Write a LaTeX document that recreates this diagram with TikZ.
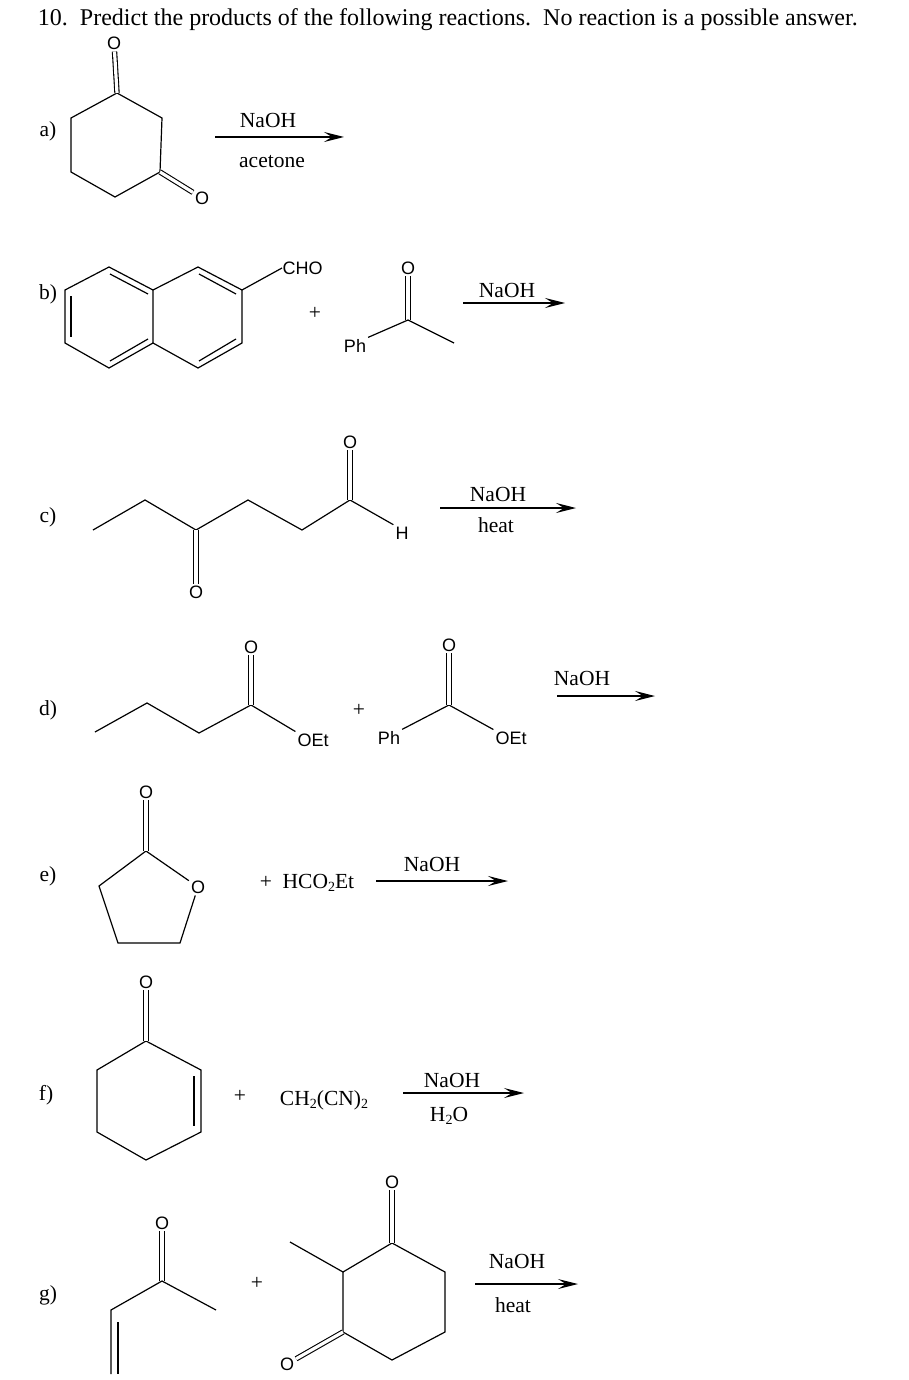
\documentclass[tikz,border=0pt]{standalone}
\usepackage{fontspec}
\setmainfont{Liberation Serif}
\setsansfont{Liberation Sans}
\usetikzlibrary{arrows.meta}
\newcommand{\subtwo}{\raisebox{-0.35ex}{\fontsize{14}{14}\selectfont 2}}
\begin{document}
\begin{tikzpicture}[x=1pt,y=-1pt,line width=1.2pt,
  atom/.style={font=\fontsize{18}{18}\selectfont\sffamily,inner sep=1.5pt},
  lab/.style={font=\fontsize{21.5}{21.5}\selectfont},
  dbl/.style={double,double distance=3.2pt,line width=1.1pt},
  rxn/.style={-{Stealth[length=20pt,width=10pt,inset=8pt]},line width=1.4pt}]
\useasboundingbox (0,0) rectangle (908,1380);
\node[lab,anchor=west,font=\fontsize{24}{24}\selectfont] (title) at (34,20) {10.\ \ Predict the products of the following reactions.\ \ No reaction is a possible answer.};

% a)
\node[lab] (la) at (48,131) {a)};
\node[atom] (a1) at (114,43) {O};
\node[atom] (a2) at (202,198) {O};
\draw (117,93) -- (162,118) -- (160,172) -- (115,197) -- (71,172) -- (71,118) -- cycle;
\draw[dbl] (117,93) -- (a1);
\draw[dbl] (160,172) -- (a2);
\coordinate (ra1) at (215,137); \coordinate (ra2) at (344,137);
\draw[rxn] (ra1) -- (ra2);
\node[lab] (na) at (268,120) {NaOH};
\node[lab] (ac) at (272,162) {acetone};

% b)
\node[lab] (lb) at (48,294) {b)};
\draw (109,267) -- (153,290) -- (153,343) -- (109,368) -- (65,343) -- (65,290) -- cycle;
\draw (153,290) -- (198,267) -- (242,290) -- (242,343) -- (198,368) -- (153,343);
\draw (71,296) -- (71,337);
\draw (110,274) -- (148,294);
\draw (148,339) -- (110,361);
\draw (199,274) -- (236,294);
\draw (236,339) -- (199,361);
\node[atom,anchor=west,inner sep=0pt] (cho) at (282,268) {CHO};
\draw (242,290) -- (cho.west);
\node[lab] (pb) at (315,313) {+};
\node[atom] (ob) at (408,268) {O};
\node[atom] (phb) at (355,346) {Ph};
\draw[dbl] (408,320) -- (ob);
\draw (phb.north east) -- (408,320) -- (454,343);
\coordinate (rb1) at (463,303); \coordinate (rb2) at (565,303);
\draw[rxn] (rb1) -- (rb2);
\node[lab] (nb) at (507,290) {NaOH};

% c)
\node[lab] (lc) at (48,517) {c)};
\node[atom] (oc1) at (350,442) {O};
\node[atom] (oc2) at (196,592) {O};
\node[atom] (hc) at (402,533) {H};
\draw (93,530) -- (145,500) -- (196,530) -- (248,500) -- (302,530) -- (350,500) -- (hc.north west);
\draw[dbl] (350,500) -- (oc1);
\draw[dbl] (196,530) -- (oc2);
\coordinate (rc1) at (440,508); \coordinate (rc2) at (576,508);
\draw[rxn] (rc1) -- (rc2);
\node[lab] (nc) at (498,494) {NaOH};
\node[lab] (hcx) at (496,525) {heat};

% d)
\node[lab] (ld) at (48,710) {d)};
\node[atom] (od1) at (251,647) {O};
\node[atom] (oet1) at (313,740) {OEt};
\draw (95,732) -- (147,703) -- (199,733) -- (251,705) -- (oet1.north west);
\draw[dbl] (251,705) -- (od1);
\node[lab] (pd) at (359,710) {+};
\node[atom] (phd) at (389,738) {Ph};
\node[atom] (od2) at (449,645) {O};
\node[atom] (oet2) at (511,738) {OEt};
\draw (phd.north east) -- (449,705) -- (oet2.north west);
\draw[dbl] (449,705) -- (od2);
\coordinate (rd1) at (557,696); \coordinate (rd2) at (655,696);
\draw[rxn] (rd1) -- (rd2);
\node[lab] (nd) at (582,678) {NaOH};

% e)
\node[lab] (le) at (48,876) {e)};
\node[atom] (oe1) at (146,792) {O};
\node[atom] (oe2) at (198,887) {O};
\draw (oe2) -- (146,851) -- (99,886) -- (118,943) -- (180,943) -- (oe2);
\draw[dbl] (146,851) -- (oe1);
\node[lab] (he) at (307,883) {+\ \ HCO\subtwo Et};
\coordinate (re1) at (376,881); \coordinate (re2) at (508,881);
\draw[rxn] (re1) -- (re2);
\node[lab] (ne) at (432,864) {NaOH};

% f)
\node[lab] (lf) at (46,1095) {f)};
\node[atom] (of) at (146,982) {O};
\draw (146,1041) -- (201,1070) -- (201,1132) -- (146,1160) -- (97,1132) -- (97,1070) -- cycle;
\draw (194,1076) -- (194,1126);
\draw[dbl] (146,1041) -- (of);
\node[lab] (pf) at (240,1096) {+};
\node[lab] (cf) at (324,1100) {CH\subtwo(CN)\subtwo};
\coordinate (rf1) at (403,1093); \coordinate (rf2) at (524,1093);
\draw[rxn] (rf1) -- (rf2);
\node[lab] (nf) at (452,1080) {NaOH};
\node[lab] (wf) at (449,1116) {H\subtwo O};

% g)
\node[lab] (lg) at (48,1295) {g)};
\node[atom] (og1) at (162,1223) {O};
\draw[dbl] (162,1281) -- (og1);
\draw (216,1310) -- (162,1281) -- (111,1310) -- (111,1374);
\draw (118,1322) -- (118,1374);
\node[lab] (pg) at (257,1283) {+};
\node[atom] (og2) at (392,1182) {O};
\node[atom] (og3) at (287,1364) {O};
\draw (392,1243) -- (445,1272) -- (445,1332) -- (392,1360) -- (343,1332) -- (343,1272) -- cycle;
\draw (343,1272) -- (290,1242);
\draw[dbl] (392,1243) -- (og2);
\draw[dbl] (343,1332) -- (og3);
\coordinate (rg1) at (475,1284); \coordinate (rg2) at (578,1284);
\draw[rxn] (rg1) -- (rg2);
\node[lab] (ng) at (517,1261) {NaOH};
\node[lab] (hg) at (513,1305) {heat};
\end{tikzpicture}
\end{document}
